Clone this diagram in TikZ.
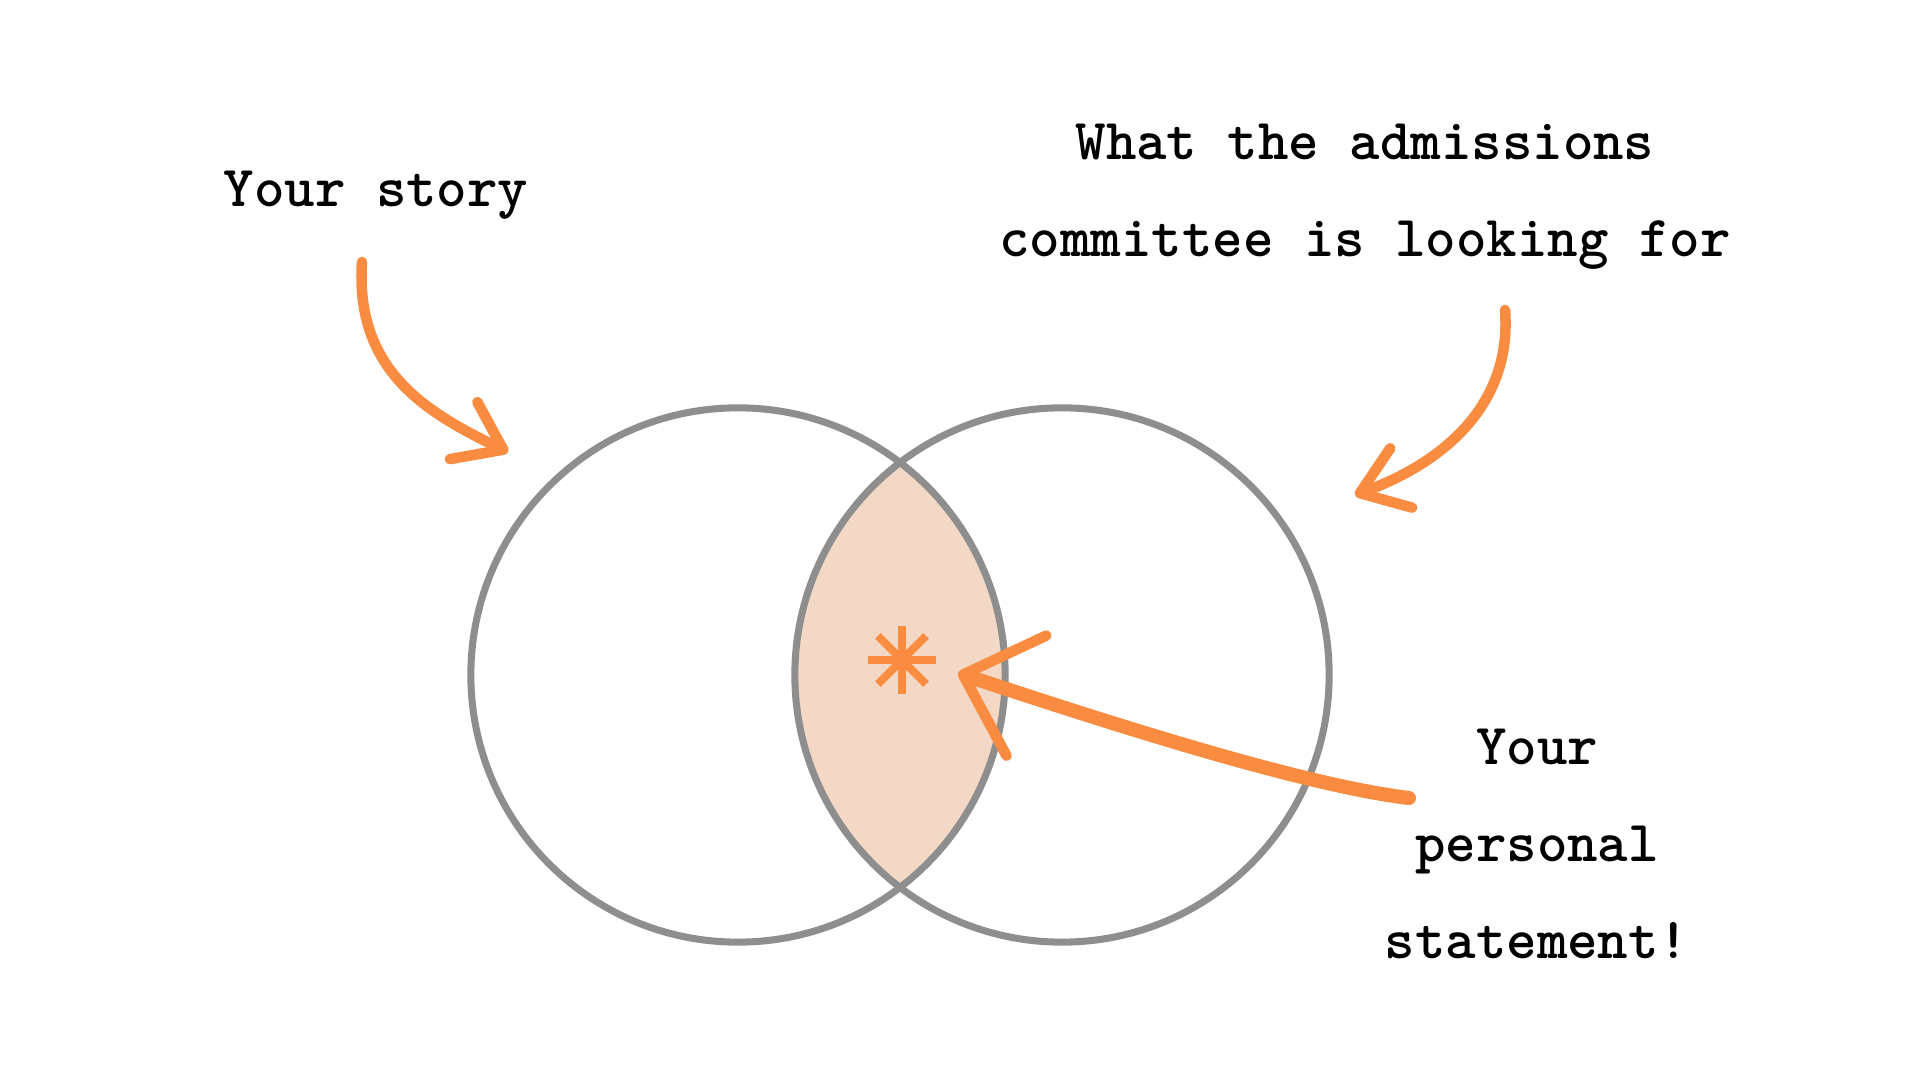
\documentclass[tikz,border=0pt]{standalone}
\usetikzlibrary{arrows.meta,backgrounds}
\definecolor{penorange}{RGB}{250,140,66}
\definecolor{ringgray}{RGB}{142,142,142}
\definecolor{lenspeach}{RGB}{242,216,197}
\tikzset{
    %Define style for the two sets
    venn/.style={
           circle,
           draw=ringgray, line width=2pt,
           minimum size=5.34cm,
           inner sep=0pt},
    %Define style for the typed labels
    typed/.style={
           font=\fontsize{16.5}{27.6}\selectfont\ttfamily\bfseries,
           align=center,
           inner sep=0pt,
           anchor=base},
    % Define arrow style
    pen/.style={
           draw=penorange,
           line width=3pt,
           line cap=round,
           -{Straight Barb[length=12.5pt,width=18pt,round]}}
}

\begin{document}
\begin{tikzpicture}[x=0.01cm,y=-0.01cm]

 %sets
\node[venn](story) at (738,675){};
\node[venn](committee) at (1062,675){};

 %labels
\node[typed](storytxt) at (376,207){Your story};
\node[typed](committeetxt) at (1365,257){What the admissions\\committee is looking for};
\node[typed](statementtxt) at (1537,959){Your\\personal\\statement!};

 %arrow ends
\coordinate (storyfrom) at (362,262);
\coordinate (storyto) at (508,452);
\coordinate (committeefrom) at (1505,310);
\coordinate (committeeto) at (1355,495);
\coordinate (statementfrom) at (1409,798);
\coordinate (mark) at (902,660);
\coordinate (statementto) at (958,673);

\begin{scope}[on background layer]
\fill[white] (0,0) rectangle (1920,1080);
\clip (story.center) circle[radius=2.67cm];
\fill[lenspeach] (committee.center) circle[radius=2.67cm];
\end{scope}

\foreach \a in {0,45,90,135}
  \draw[penorange, line width=2.3pt] (mark) ++(\a:34) -- ++({\a+180}:68);

\draw[pen] (storyfrom) .. controls (355,370) and (425,412) .. (storyto);
\draw[pen] (committeefrom) .. controls (1512,400) and (1450,460) .. (committeeto);
\draw[pen, line width=4pt, -{Straight Barb[length=19pt,width=36pt,round,line width=3pt]}]
  (statementfrom) .. controls (1300,785) and (1100,720) .. (statementto);

\end{tikzpicture}
\end{document}
